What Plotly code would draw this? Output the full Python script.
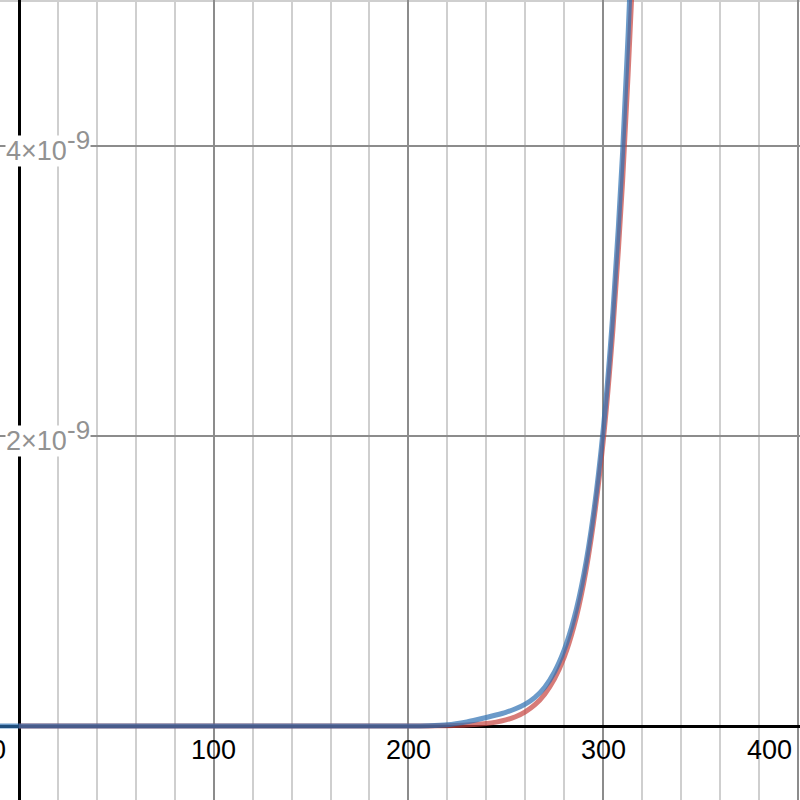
import plotly.graph_objects as go

# ---- data ----
blue_x = [-10, 0, 50, 100, 150, 200, 210, 220, 230, 235, 240, 245, 250, 255, 260, 265,
          270, 275, 280, 285, 290, 295, 300, 305, 310, 315, 320]
blue_y = [0, 0, 0, 0, 0, 0.0007e-9, 0.0025e-9, 0.009e-9, 0.029e-9, 0.043e-9, 0.059e-9,
          0.076e-9, 0.095e-9, 0.119e-9, 0.151e-9, 0.198e-9, 0.268e-9, 0.373e-9, 0.525e-9,
          0.74e-9, 1.04e-9, 1.46e-9, 2.04e-9, 2.85e-9, 3.96e-9, 5.48e-9, 7.6e-9]

red_x = [0, 50, 100, 150, 200, 210, 220, 230, 240, 245, 250, 255, 260, 265, 270,
         275, 280, 285, 290, 295, 300, 305, 310, 315, 320]
red_y = [0, 0, 0, 0, 0.0003e-9, 0.0009e-9, 0.0026e-9, 0.0069e-9, 0.0173e-9, 0.027e-9,
         0.042e-9, 0.064e-9, 0.098e-9, 0.147e-9, 0.220e-9, 0.325e-9, 0.475e-9, 0.687e-9,
         0.985e-9, 1.40e-9, 1.96e-9, 2.73e-9, 3.76e-9, 5.13e-9, 6.9e-9]

x_tick_vals = [100, 200, 300]
x_tick_text = ["100", "200", "300"]
y_tick_vals = [2e-9, 4e-9]
y_tick_main = ["2×10", "4×10"]
y_tick_exp = ["-9", "-9"]

X_RANGE = [-9.76, 401.1]
Y_RANGE = [-0.510e-9, 5.007e-9]

fig = go.Figure()
fig.add_trace(go.Scatter(x=red_x, y=red_y, mode="lines",
                         line=dict(color="#c74440", width=5, shape="spline", smoothing=0.8),
                         opacity=0.7, hoverinfo="skip"))
fig.add_trace(go.Scatter(x=blue_x, y=blue_y, mode="lines",
                         line=dict(color="#2d70b3", width=5, shape="spline", smoothing=0.8),
                         opacity=0.7, hoverinfo="skip"))

FONT = "Liberation Sans, Arial, sans-serif"
ann = []
px_x = (X_RANGE[1] - X_RANGE[0]) / 800.0
px_y = (Y_RANGE[1] - Y_RANGE[0]) / 800.0
lab_y = -24 * px_y
for v, t in zip(x_tick_vals, x_tick_text):
    ann.append(dict(x=v, y=lab_y, text=t, showarrow=False, xanchor="center", yanchor="middle",
                    font=dict(family=FONT, size=27, color="black")))
# edge labels (kept inside the view)
ann.append(dict(x=385.2, y=lab_y, text="400", showarrow=False, xanchor="center", yanchor="middle",
                font=dict(family=FONT, size=27, color="black")))
ann.append(dict(x=-5.6, y=lab_y, text="0", showarrow=False, xanchor="right", yanchor="middle",
                font=dict(family=FONT, size=27, color="black")))
for v, m, e in zip(y_tick_vals, y_tick_main, y_tick_exp):
    ann.append(dict(x=-7.0, y=v - 5 * px_y, text=m, showarrow=False, xanchor="left", yanchor="middle",
                    bgcolor="white", borderpad=0,
                    font=dict(family=FONT, size=27, color="#929292")))
    ann.append(dict(x=-7.0 + 61 * px_x, y=v + 6 * px_y, text=e, showarrow=False, xanchor="left",
                    yanchor="middle", bgcolor="white", borderpad=0,
                    font=dict(family=FONT, size=26, color="#929292")))

fig.update_layout(
    width=800, height=800,
    margin=dict(l=0, r=0, t=0, b=0),
    paper_bgcolor="white", plot_bgcolor="white",
    showlegend=False,
    annotations=ann,
    xaxis=dict(range=X_RANGE, dtick=100, tick0=0, showticklabels=False, ticks="",
               showgrid=True, gridcolor="#8c8c8c", gridwidth=1.5,
               minor=dict(dtick=20, tick0=0, showgrid=True, gridcolor="#cfcfcf", gridwidth=1.5),
               zeroline=True, zerolinecolor="black", zerolinewidth=2.5, showline=False),
    yaxis=dict(range=Y_RANGE, dtick=2e-9, tick0=0, showticklabels=False, ticks="",
               showgrid=True, gridcolor="#8c8c8c", gridwidth=1.5,
               minor=dict(dtick=0.5e-9, tick0=0, showgrid=True, gridcolor="#cfcfcf", gridwidth=1.5),
               zeroline=True, zerolinecolor="black", zerolinewidth=2.5, showline=False),
)

fig.write_html("out.html", config={"displayModeBar": False},
               post_script="document.body.style.margin='0px';document.body.style.overflow='hidden';")
